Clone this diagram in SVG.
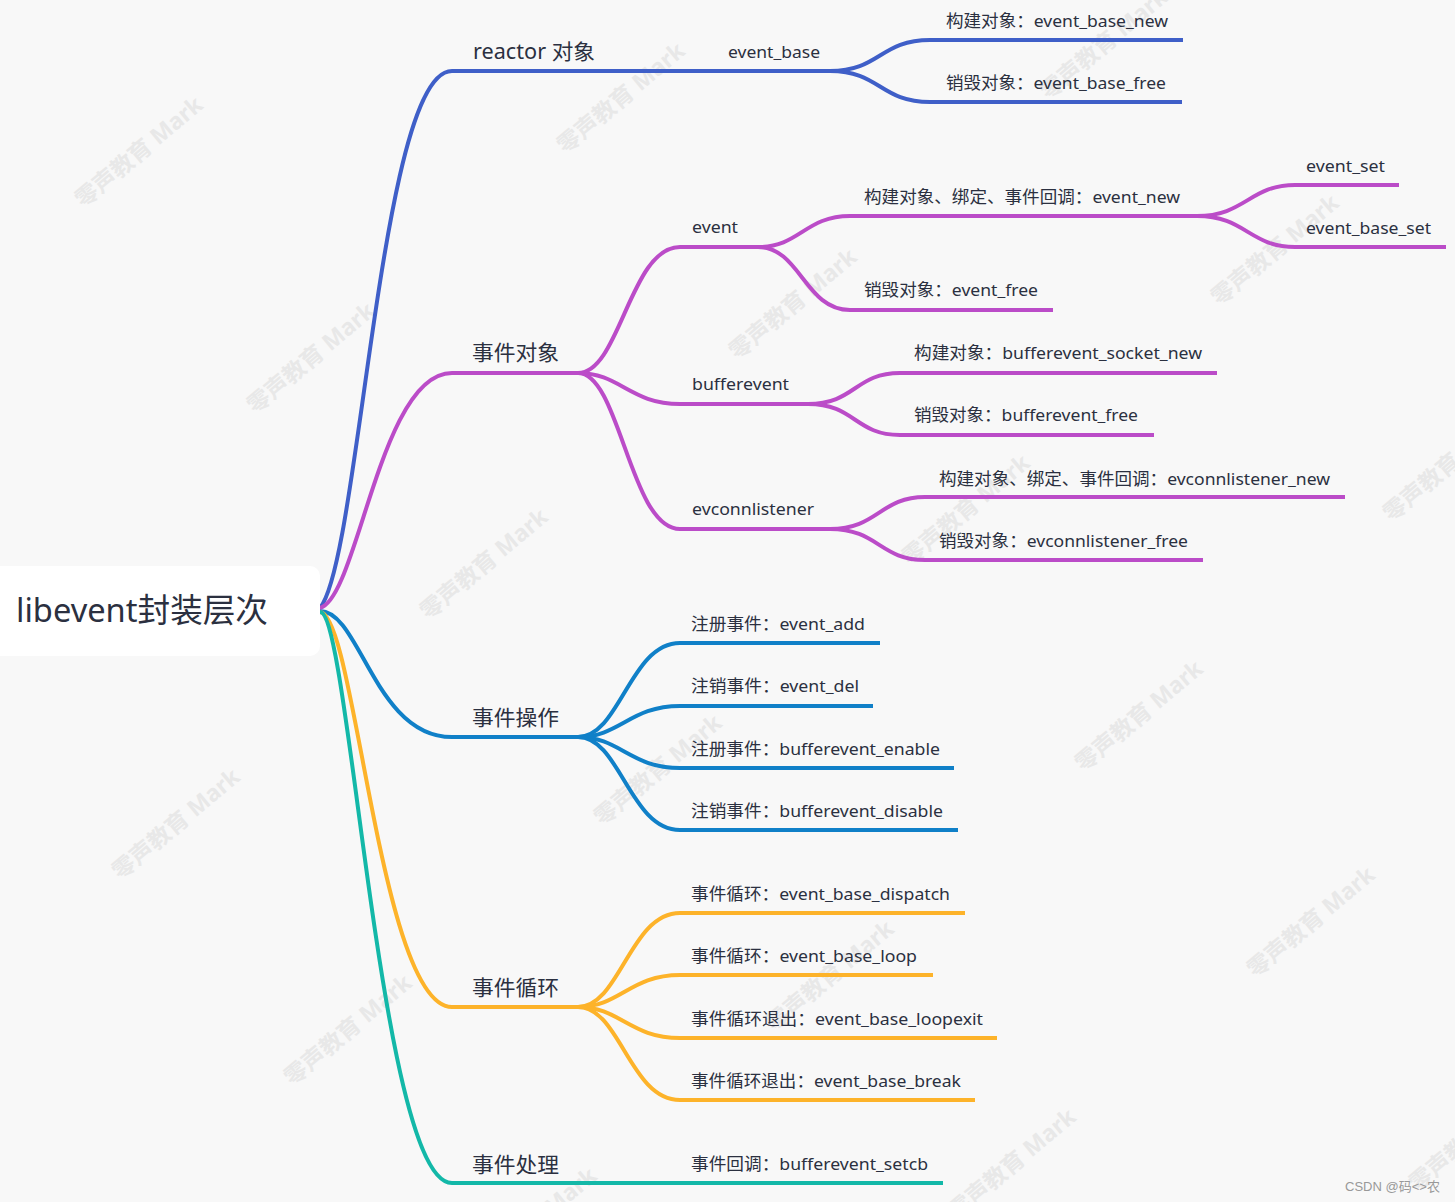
<svg xmlns="http://www.w3.org/2000/svg" width="1455" height="1202" viewBox="0 0 1455 1202">
<style>
text{font-family:"Noto Sans","Noto Sans CJK SC",sans-serif;fill:#2b3040}
.wm{font-size:23px;fill:#e8e8e8;font-weight:700;text-anchor:middle}
.l1{font-size:21px}
.l2{font-size:17px}
.root{font-size:33px}
.c{fill:none;stroke-width:4}
.blue{stroke:#3f5fc8}.purple{stroke:#bb4cc8}.sky{stroke:#1080c8}.orange{stroke:#fdb32a}.teal{stroke:#13b8a8}
.credit{font-family:"Liberation Sans","Noto Sans CJK SC",sans-serif;font-size:13px;fill:#999}
</style>
<rect width="1455" height="1202" fill="#f8f8f8"/>
<g id="watermarks">
<text class="wm" transform="translate(144 158) rotate(-40)">零声教育 Mark</text>
<text class="wm" transform="translate(626 104) rotate(-40)">零声教育 Mark</text>
<text class="wm" transform="translate(1109 50) rotate(-40)">零声教育 Mark</text>
<text class="wm" transform="translate(316 364) rotate(-40)">零声教育 Mark</text>
<text class="wm" transform="translate(798 310) rotate(-40)">零声教育 Mark</text>
<text class="wm" transform="translate(1280 256) rotate(-40)">零声教育 Mark</text>
<text class="wm" transform="translate(489 570) rotate(-40)">零声教育 Mark</text>
<text class="wm" transform="translate(971 516) rotate(-40)">零声教育 Mark</text>
<text class="wm" transform="translate(1452 472) rotate(-40)">零声教育 Mark</text>
<text class="wm" transform="translate(181 830) rotate(-40)">零声教育 Mark</text>
<text class="wm" transform="translate(663 776) rotate(-40)">零声教育 Mark</text>
<text class="wm" transform="translate(1144 722) rotate(-40)">零声教育 Mark</text>
<text class="wm" transform="translate(353 1036) rotate(-40)">零声教育 Mark</text>
<text class="wm" transform="translate(835 982) rotate(-40)">零声教育 Mark</text>
<text class="wm" transform="translate(1316 928) rotate(-40)">零声教育 Mark</text>
<text class="wm" transform="translate(1017 1170) rotate(-40)">零声教育 Mark</text>
<text class="wm" transform="translate(538 1229) rotate(-40)">零声教育 Mark</text>
<text class="wm" transform="translate(1478 1142) rotate(-40)">零声教育 Mark</text>
</g>
<g id="connectors">
<path class="c sky" d="M320 611C360 611 375 737 452 737H585"/>
<path class="c orange" d="M320 612C355 612 380 1007 452 1007H585"/>
<path class="c teal" d="M320 612C350 612 380 1183 452 1183H943"/>
<path class="c blue" d="M320 608C360 560 380 71 452 71H830"/>
<path class="c purple" d="M320 608C358 598 380 373 452 373H585"/>
<path class="c blue" d="M830 71C880 71 880 40 930 40H1183"/>
<path class="c blue" d="M830 71C880 71 880 102 930 102H1182"/>
<path class="c purple" d="M578 373C620 373 630 247 680 247H758"/>
<path class="c purple" d="M578 373C620 373 630 404 680 404H808"/>
<path class="c purple" d="M578 373C620 373 630 529 680 529H830"/>
<path class="c purple" d="M758 247C800 247 805 216 850 216H1197"/>
<path class="c purple" d="M758 247C800 247 805 310 850 310H1053"/>
<path class="c purple" d="M1197 216C1245 216 1250 185 1295 185H1399"/>
<path class="c purple" d="M1197 216C1245 216 1250 247 1295 247H1446"/>
<path class="c purple" d="M808 404C855 404 855 373 900 373H1217"/>
<path class="c purple" d="M808 404C855 404 855 435 900 435H1154"/>
<path class="c purple" d="M830 529C878 529 880 497 925 497H1345"/>
<path class="c purple" d="M830 529C878 529 880 560 925 560H1203"/>
<path class="c sky" d="M578 737C620 737 630 643 680 643H880"/>
<path class="c sky" d="M578 737C620 737 630 706 680 706H873"/>
<path class="c sky" d="M578 737C620 737 630 768 680 768H954"/>
<path class="c sky" d="M578 737C620 737 630 830 680 830H958"/>
<path class="c orange" d="M578 1007C620 1007 630 913 680 913H965"/>
<path class="c orange" d="M578 1007C620 1007 630 975 680 975H933"/>
<path class="c orange" d="M578 1007C620 1007 630 1038 680 1038H997"/>
<path class="c orange" d="M578 1007C620 1007 630 1100 680 1100H975"/>
</g>
<g id="root"><rect x="-12" y="566" width="332" height="90" rx="10" fill="#fff"/><text class="root" x="16" y="622" textLength="252" lengthAdjust="spacingAndGlyphs">libevent封装层次</text></g>
<g id="n-reactor"><text class="l1" x="473" y="59" textLength="122" lengthAdjust="spacingAndGlyphs">reactor 对象</text></g>
<g id="n-event-base"><text class="l2" x="728" y="57.500" textLength="92" lengthAdjust="spacingAndGlyphs">event_base</text></g>
<g id="n-base-new"><text class="l2" x="946" y="27" textLength="222" lengthAdjust="spacingAndGlyphs">构建对象：event_base_new</text></g>
<g id="n-base-free"><text class="l2" x="946" y="89" textLength="220" lengthAdjust="spacingAndGlyphs">销毁对象：event_base_free</text></g>
<g id="n-objects"><text class="l1" x="472" y="360" textLength="87" lengthAdjust="spacingAndGlyphs">事件对象</text></g>
<g id="n-event"><text class="l2" x="692" y="233" textLength="46" lengthAdjust="spacingAndGlyphs">event</text></g>
<g id="n-event-new"><text class="l2" x="864" y="203" textLength="316" lengthAdjust="spacingAndGlyphs">构建对象、绑定、事件回调：event_new</text></g>
<g id="n-event-set"><text class="l2" x="1306" y="171.500" textLength="79" lengthAdjust="spacingAndGlyphs">event_set</text></g>
<g id="n-event-base-set"><text class="l2" x="1306" y="234" textLength="125" lengthAdjust="spacingAndGlyphs">event_base_set</text></g>
<g id="n-event-free"><text class="l2" x="864" y="296" textLength="174" lengthAdjust="spacingAndGlyphs">销毁对象：event_free</text></g>
<g id="n-bufferevent"><text class="l2" x="692" y="390" textLength="97" lengthAdjust="spacingAndGlyphs">bufferevent</text></g>
<g id="n-be-new"><text class="l2" x="914" y="359" textLength="288" lengthAdjust="spacingAndGlyphs">构建对象：bufferevent_socket_new</text></g>
<g id="n-be-free"><text class="l2" x="914" y="421" textLength="224" lengthAdjust="spacingAndGlyphs">销毁对象：bufferevent_free</text></g>
<g id="n-evconn"><text class="l2" x="692" y="515" textLength="122" lengthAdjust="spacingAndGlyphs">evconnlistener</text></g>
<g id="n-evconn-new"><text class="l2" x="939" y="485" textLength="391" lengthAdjust="spacingAndGlyphs">构建对象、绑定、事件回调：evconnlistener_new</text></g>
<g id="n-evconn-free"><text class="l2" x="939" y="547" textLength="249" lengthAdjust="spacingAndGlyphs">销毁对象：evconnlistener_free</text></g>
<g id="n-ops"><text class="l1" x="472" y="725" textLength="87" lengthAdjust="spacingAndGlyphs">事件操作</text></g>
<g id="n-add"><text class="l2" x="691" y="630" textLength="174" lengthAdjust="spacingAndGlyphs">注册事件：event_add</text></g>
<g id="n-del"><text class="l2" x="691" y="692" textLength="168" lengthAdjust="spacingAndGlyphs">注销事件：event_del</text></g>
<g id="n-enable"><text class="l2" x="691" y="755" textLength="249" lengthAdjust="spacingAndGlyphs">注册事件：bufferevent_enable</text></g>
<g id="n-disable"><text class="l2" x="691" y="817" textLength="252" lengthAdjust="spacingAndGlyphs">注销事件：bufferevent_disable</text></g>
<g id="n-loop"><text class="l1" x="472" y="995" textLength="87" lengthAdjust="spacingAndGlyphs">事件循环</text></g>
<g id="n-dispatch"><text class="l2" x="691" y="900" textLength="259" lengthAdjust="spacingAndGlyphs">事件循环：event_base_dispatch</text></g>
<g id="n-base-loop"><text class="l2" x="691" y="962" textLength="226" lengthAdjust="spacingAndGlyphs">事件循环：event_base_loop</text></g>
<g id="n-loopexit"><text class="l2" x="691" y="1025" textLength="292" lengthAdjust="spacingAndGlyphs">事件循环退出：event_base_loopexit</text></g>
<g id="n-break"><text class="l2" x="691" y="1087" textLength="270" lengthAdjust="spacingAndGlyphs">事件循环退出：event_base_break</text></g>
<g id="n-handle"><text class="l1" x="472" y="1172" textLength="87" lengthAdjust="spacingAndGlyphs">事件处理</text></g>
<g id="n-setcb"><text class="l2" x="691" y="1170" textLength="237" lengthAdjust="spacingAndGlyphs">事件回调：bufferevent_setcb</text></g>
<text class="credit" x="1345" y="1191" textLength="95" lengthAdjust="spacingAndGlyphs">CSDN @码&lt;&gt;农</text>
</svg>
